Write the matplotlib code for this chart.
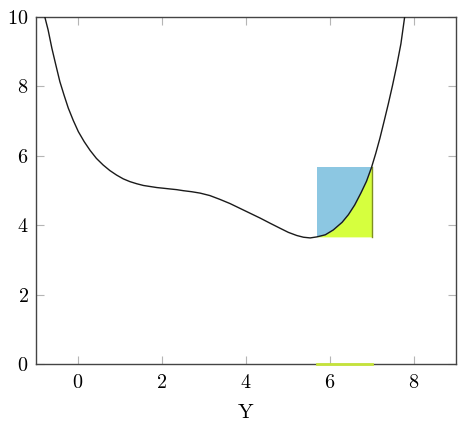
import matplotlib
matplotlib.use("Agg")
import matplotlib.pyplot as plt

# curve points
curve_x = [-0.78, -0.70, -0.61, -0.52, -0.42, -0.32, -0.22, -0.10, 0.02, 0.16, 0.30, 0.45,
           0.61, 0.77, 0.93, 1.09, 1.25, 1.41, 1.57, 1.73, 1.89, 2.05, 2.20, 2.36, 2.52,
           2.72, 2.92, 3.15, 3.39, 3.63, 3.87, 4.11, 4.35, 4.59, 4.82, 5.02, 5.22, 5.38,
           5.54, 5.70, 5.90, 6.09, 6.30, 6.45, 6.60, 6.75, 6.88, 7.00, 7.10, 7.20, 7.30,
           7.40, 7.50, 7.60, 7.70, 7.79]
curve_y = [10.0, 9.62, 9.09, 8.63, 8.13, 7.74, 7.37, 7.01, 6.69, 6.40, 6.15, 5.92,
           5.73, 5.57, 5.44, 5.33, 5.25, 5.19, 5.14, 5.11, 5.08, 5.06, 5.04, 5.02, 4.99,
           4.96, 4.92, 4.85, 4.74, 4.62, 4.48, 4.34, 4.20, 4.05, 3.91, 3.79, 3.70, 3.65,
           3.63, 3.66, 3.72, 3.86, 4.08, 4.30, 4.58, 4.93, 5.26, 5.66, 6.06, 6.50, 6.99,
           7.49, 8.02, 8.59, 9.22, 10.0]

rect_x = [5.70, 7.00]
rect_y = [3.66, 5.66]

x_ticks = [0, 2, 4, 6, 8]
y_ticks = [0, 2, 4, 6, 8, 10]
x_label = "Y"

plt.rcParams['font.family'] = ['cmr10', 'DejaVu Serif']
plt.rcParams['axes.formatter.use_mathtext'] = True

fig = plt.figure(figsize=(4.74, 4.30), dpi=100)
ax = fig.add_axes([0.0749, 0.1535, 0.961 - 0.0749, 0.9612 - 0.1535])

blue = '#8cc7e2'
yellow = '#d6ff3e'

# blue rectangle
ax.fill_between(rect_x, [rect_y[0]] * 2, [rect_y[1]] * 2, color=blue, linewidth=0, zorder=1)

# yellow region under curve inside rectangle
sx = [x for x in curve_x if rect_x[0] <= x <= rect_x[1]]
sy = [y for x, y in zip(curve_x, curve_y) if rect_x[0] <= x <= rect_x[1]]
ax.fill_between(sx, [rect_y[0]] * len(sx), sy, color=yellow, linewidth=0, zorder=2)
ax.plot([rect_x[1], rect_x[1]], [rect_y[0], rect_y[1]], color='#7f8f20', lw=1.0, zorder=3)

# yellow segment on x-axis
ax.plot(rect_x, [0, 0], color='#c5e33a', lw=2.0, zorder=4, clip_on=False)

ax.plot(curve_x, curve_y, color='#1a1a1a', lw=1.0, zorder=5)

ax.set_xlim(-1, 9)
ax.set_ylim(0, 10)
ax.set_xticks(x_ticks)
ax.set_yticks(y_ticks)
ax.tick_params(direction='in', length=6, width=0.8, color='#b5b5b5', labelsize=14.5,
               top=True, right=True, pad=5)
ax.tick_params(axis='x', pad=7)
for s in ax.spines.values():
    s.set_color('#444444')
    s.set_linewidth(1.0)
ax.set_xlabel(x_label, fontsize=15, labelpad=9)

fig.savefig('out.png', dpi=100)
